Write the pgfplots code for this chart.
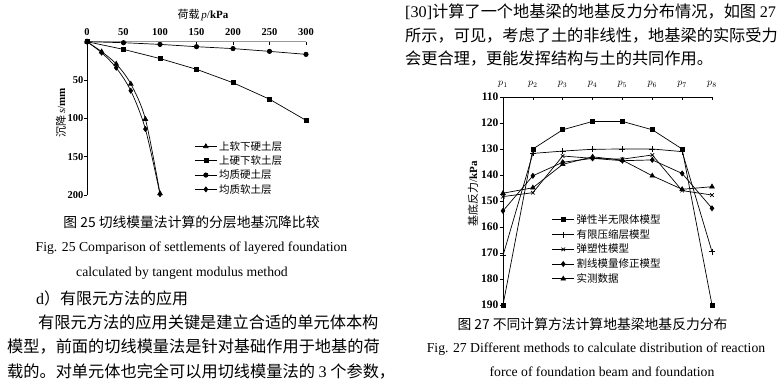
\documentclass[border=0pt]{standalone}
\usepackage{fontspec}
\setmainfont{Liberation Serif}
\newfontfamily\cjk{Noto Sans CJK SC}
\usepackage{pgfplots}
\pgfplotsset{compat=1.18}
\newcommand{\fs}[1]{\fontsize{#1}{#1}\selectfont}
\begin{document}
\begin{tikzpicture}
\path[use as bounding box] (0pt,0pt) rectangle (782pt,384pt);
% ---------------- left chart ----------------
\begin{axis}[
  at={(87pt,342.3pt)}, anchor=north west,
  scale only axis, width=219pt, height=153.3pt,
  xmin=0, xmax=300, ymin=0, ymax=200, y dir=reverse,
  axis x line*=top, axis y line*=left,
  x axis line style={gray!80, line width=1.1pt, -},
  y axis line style={black, line width=0.7pt, -},
  xtick={0,50,...,300}, ytick={50,100,150,200},
  tick style={black, line width=0.6pt},
  major tick length=3pt, tick align=inside,
  y tick style={xshift=-3pt},
  /pgf/number format/assume math mode=true,
  ticklabel style={font=\bfseries\fs{10.5}},
  xticklabel style={yshift=2.5pt},
  clip=false,
  legend style={at={(axis description cs:0.49,0.365)}, anchor=north west,
    draw=none, fill=none, font=\cjk\fs{10.5}, row sep=0pt, inner sep=0pt},
  legend cell align=left,
  legend image code/.code={\draw[mark repeat=2,mark phase=2,#1] plot coordinates {(0pt,0pt) (11pt,0pt) (22pt,0pt)};},
  every axis plot/.append style={black, line width=0.7pt},
]
\addplot[smooth, mark=triangle*, mark size=2.6pt] coordinates {(0,0) (20,13) (40,29) (60,55) (80,101) (100,198)};
\addlegendentry{上软下硬土层}
\addplot[mark=square*, mark size=2pt] coordinates {(0,0) (50,10) (100,22) (150,36) (200,53.5) (250,75) (300,102.6)};
\addlegendentry{上硬下软土层}
\addplot[mark=*, mark size=2.2pt] coordinates {(0,0) (50,1.3) (100,3.5) (150,6.5) (200,9) (250,12.6) (300,16.5)};
\addlegendentry{均质硬土层}
\addplot[smooth, mark=diamond*, mark size=2.5pt] coordinates {(0,0) (20,14.3) (40,34) (60,64) (80,114) (100,199)};
\addlegendentry{均质软土层}
\end{axis}
\node[font=\fs{11}] at (203pt,369pt) {{\cjk 荷载}\,\textit{p}/\textbf{kPa}};
\node[font=\fs{11}, rotate=90] at (61pt,271pt) {{\cjk 沉降}\,\textit{s}/\textbf{mm}};
% ---------------- right chart ----------------
\begin{axis}[
  at={(503pt,287pt)}, anchor=north west,
  scale only axis, width=209pt, height=208pt,
  xmin=1, xmax=8, ymin=110, ymax=190, y dir=reverse,
  axis x line*=top, axis y line*=left,
  axis line style={black, line width=0.7pt, -},
  xtick={1,...,8}, xticklabels={$p_1$,$p_2$,$p_3$,$p_4$,$p_5$,$p_6$,$p_7$,$p_8$},
  ytick={110,120,...,190},
  tick style={black, line width=0.6pt},
  major tick length=3pt, tick align=inside,
  y tick style={xshift=-3pt},
  /pgf/number format/assume math mode=true,
  yticklabel style={font=\bfseries\fs{11.5}, xshift=-1pt},
  xticklabel style={font=\fs{10}, yshift=6pt},
  clip=false,
  legend style={at={(axis description cs:0.233,0.445)}, anchor=north west,
    draw=none, fill=none, font=\cjk\fs{10.5}, row sep=0.4pt, inner sep=0pt},
  legend cell align=left,
  legend image code/.code={\draw[mark repeat=2,mark phase=2,#1] plot coordinates {(0pt,0pt) (11pt,0pt) (22pt,0pt)};},
  every axis plot/.append style={black, line width=0.7pt},
]
\addplot[mark=square*, mark size=2pt] coordinates {(1,190) (2,130) (3,122.6) (4,119.4) (5,119.4) (6,122.6) (7,130) (8,190)};
\addlegendentry{弹性半无限体模型}
\addplot[mark=+, mark size=3pt] coordinates {(1,171) (2,131.7) (3,130.8) (4,130.1) (5,130) (6,130) (7,131) (8,169.5)};
\addlegendentry{有限压缩层模型}
\addplot[mark=x, mark size=2.5pt] coordinates {(1,148.3) (2,146.8) (3,132.7) (4,133.6) (5,133.9) (6,132.3) (7,146) (8,147.7)};
\addlegendentry{弹塑性模型}
\addplot[mark=diamond*, mark size=2.5pt] coordinates {(1,153.8) (2,140.3) (3,135.1) (4,133.6) (5,134.5) (6,134.2) (7,139.4) (8,152.8)};
\addlegendentry{割线模量修正模型}
\addplot[mark=triangle*, mark size=2.6pt] coordinates {(1,147) (2,144.9) (3,135.9) (4,133) (5,134.3) (6,140.3) (7,145.5) (8,144.5)};
\addlegendentry{实测数据}
\end{axis}
\node[font=\fs{11}, rotate=90] at (473pt,190pt) {{\cjk 基底反力}/\textbf{kPa}};
% ---------------- text ----------------
\node[font=\cjk\fs{13.8}] at (191.5pt,162pt) {图 25 切线模量法计算的分层地基沉降比较};
\node[font=\fs{13.7}] at (191.5pt,135.7pt) {Fig. 25 Comparison of settlements of layered foundation};
\node[font=\fs{13.7}] at (182pt,110.7pt) {calculated by tangent modulus method};
\node[font=\cjk\fs{16}, anchor=west, inner sep=0pt] at (36pt,86pt) {{\rmfamily d}）有限元方法的应用};
\node[font=\cjk\fs{16.2}, anchor=west, inner sep=0pt] at (38pt,62pt) {有限元方法的应用关键是建立合适的单元体本构};
\node[font=\cjk\fs{16.2}, anchor=west, inner sep=0pt] at (7pt,37pt) {模型，前面的切线模量法是针对基础作用于地基的荷};
\node[font=\cjk\fs{16.2}, anchor=west, inner sep=0pt] at (7pt,13pt) {载的。对单元体也完全可以用切线模量法的 {\rmfamily 3} 个参数，};
\node[font=\cjk\fs{16.2}, anchor=west, inner sep=0pt] at (405pt,372pt) {{\rmfamily [30]}计算了一个地基梁的地基反力分布情况，如图 {\rmfamily 27}};
\node[font=\cjk\fs{16.2}, anchor=west, inner sep=0pt] at (405pt,348pt) {所示，可见，考虑了土的非线性，地基梁的实际受力};
\node[font=\cjk\fs{16.2}, anchor=west, inner sep=0pt] at (405pt,325pt) {会更合理，更能发挥结构与土的共同作用。};
\node[font=\cjk\fs{13.8}] at (592.5pt,60pt) {图 27 不同计算方法计算地基梁地基反力分布};
\node[font=\fs{13.7}] at (596pt,35pt) {Fig. 27 Different methods to calculate distribution of reaction};
\node[font=\fs{13.7}] at (602pt,12pt) {force of foundation beam and foundation};
\end{tikzpicture}
\end{document}
